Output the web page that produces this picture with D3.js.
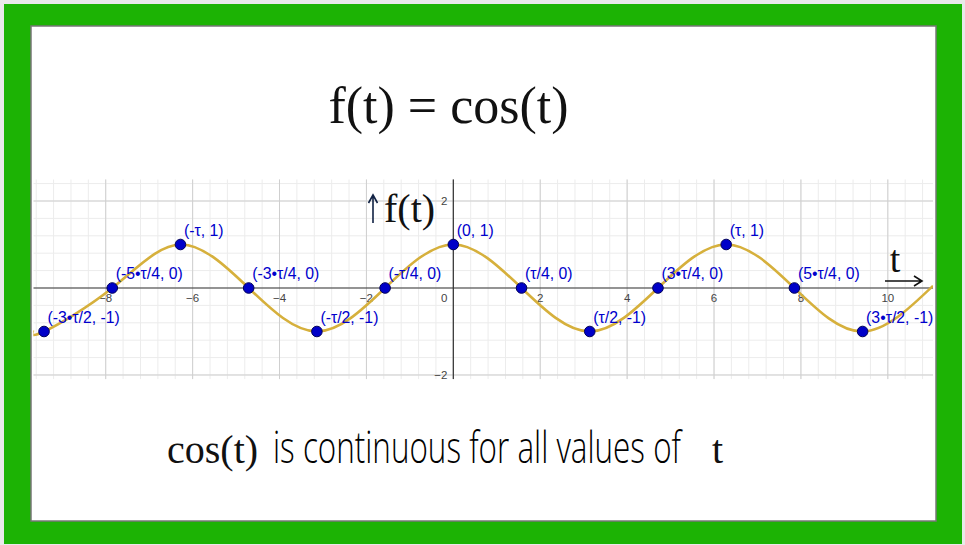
<!DOCTYPE html>
<html>
<head>
<meta charset="utf-8">
<script src="https://cdn.jsdelivr.net/npm/d3@7"></script>
<style>
  body { margin: 0; background: #e9e9e9; }
  svg  { display: block; }
</style>
</head>
<body>
<div id="chart"></div>
<script>

// t values of the labelled points (multiples of half a pi, written as tau fractions)
var pointT = [-9.42, -7.85, -6.28, -4.71, -3.14, -1.57, 0,
              1.57, 3.14, 4.71, 6.28, 7.85, 9.42];
var pointF = [-1, 0, 1, 0, -1, 0, 1, 0, -1, 0, 1, 0, -1];
var pointLabels = [
  "(-3\u2022\u03c4/2, -1)", "(-5\u2022\u03c4/4, 0)", "(-\u03c4, 1)",
  "(-3\u2022\u03c4/4, 0)", "(-\u03c4/2, -1)", "(-\u03c4/4, 0)", "(0, 1)",
  "(\u03c4/4, 0)", "(\u03c4/2, -1)", "(3\u2022\u03c4/4, 0)", "(\u03c4, 1)",
  "(5\u2022\u03c4/4, 0)", "(3\u2022\u03c4/2, -1)"
];

// where the curve leaves the plot on the left and on the right
var edgeT = [-9.67, 11.04];
var edgeF = [-0.97, 0.05];

var xTicks = [-8, -6, -4, -2, 2, 4, 6, 8, 10];
var yTicks = [2, -2];

var title    = "f(t) = cos(t)";
var caption1 = "cos(t)";
var caption2 = "is continuous for all values of";
var caption3 = "t";

var W = 965, H = 545;

var svg = d3.select("#chart").append("svg")
  .attr("width",  W)
  .attr("height", H);

// frame: green border round a white card
svg.append("rect")
  .attr("x", 4).attr("y", 4)
  .attr("width", 958).attr("height", 540)
  .attr("fill", "#1cb304");

svg.append("rect")
  .attr("x", 31).attr("y", 26)
  .attr("width", 905).attr("height", 495)
  .attr("fill", "#ffffff")
  .attr("stroke", "#777777")
  .attr("stroke-width", 1.5);

svg.append("text")
  .attr("x", 448.5)
  .attr("y", 123)
  .attr("text-anchor", "middle")
  .attr("font-family", "'Liberation Serif', 'Times New Roman', serif")
  .attr("font-size", 52)
  .attr("fill", "#111")
  .text(title);

// plot area
var plot = { left: 33.3, right: 933, top: 179.3, bottom: 379.3 };

var x = d3.scaleLinear()
  .domain([-9.667, 11.04])
  .range([plot.left, plot.right]);

var y = d3.scaleLinear()
  .domain([-2.099, 2.499])
  .range([plot.bottom, plot.top]);

svg.append("clipPath").attr("id", "plotClip")
  .append("rect")
  .attr("x", plot.left).attr("y", plot.top)
  .attr("width",  plot.right - plot.left)
  .attr("height", plot.bottom - plot.top);

var g = svg.append("g").attr("clip-path", "url(#plotClip)");

// minor grid every 0.4, major every 2
var minorX = d3.range(-24, 28).map(function(i) { return i * 0.4; });
var minorY = d3.range(-6, 7).map(function(i) { return i * 0.4; });
var majorX = d3.range(-8, 12, 2);
var majorY = [-2, 2];

g.selectAll("line.minorx").data(minorX).enter().append("line")
  .attr("x1", function(d) { return x(d); })
  .attr("x2", function(d) { return x(d); })
  .attr("y1", plot.top).attr("y2", plot.bottom)
  .attr("stroke", "#ececec").attr("stroke-width", 1);

g.selectAll("line.minory").data(minorY).enter().append("line")
  .attr("y1", function(d) { return y(d); })
  .attr("y2", function(d) { return y(d); })
  .attr("x1", plot.left).attr("x2", plot.right)
  .attr("stroke", "#ececec").attr("stroke-width", 1);

g.selectAll("line.majorx").data(majorX).enter().append("line")
  .attr("x1", function(d) { return x(d); })
  .attr("x2", function(d) { return x(d); })
  .attr("y1", plot.top).attr("y2", plot.bottom)
  .attr("stroke", "#cfcfcf").attr("stroke-width", 1);

g.selectAll("line.majory").data(majorY).enter().append("line")
  .attr("y1", function(d) { return y(d); })
  .attr("y2", function(d) { return y(d); })
  .attr("x1", plot.left).attr("x2", plot.right)
  .attr("stroke", "#cfcfcf").attr("stroke-width", 1);

// axes
g.append("line")
  .attr("x1", plot.left).attr("x2", plot.right)
  .attr("y1", y(0)).attr("y2", y(0))
  .attr("stroke", "#333").attr("stroke-width", 1.2);

g.append("line")
  .attr("x1", x(0)).attr("x2", x(0))
  .attr("y1", plot.top).attr("y2", plot.bottom)
  .attr("stroke", "#333").attr("stroke-width", 1.2);

var fmt = d3.format("d");

g.selectAll("text.xtick").data(xTicks).enter().append("text")
  .attr("x", function(d) { return x(d); })
  .attr("y", y(0) + 14)
  .attr("text-anchor", "middle")
  .attr("font-family", "'Liberation Sans', Arial, sans-serif")
  .attr("font-size", 11.5)
  .attr("fill", "#444")
  .text(function(d) { return fmt(d); });

g.selectAll("text.ytick").data(yTicks).enter().append("text")
  .attr("x", x(0) - 6)
  .attr("y", function(d) { return y(d) + 4; })
  .attr("text-anchor", "end")
  .attr("font-family", "'Liberation Sans', Arial, sans-serif")
  .attr("font-size", 11.5)
  .attr("fill", "#444")
  .text(function(d) { return fmt(d); });

g.append("text")
  .attr("x", x(0) - 9)
  .attr("y", y(0) + 14)
  .attr("text-anchor", "middle")
  .attr("font-family", "'Liberation Sans', Arial, sans-serif")
  .attr("font-size", 11.5)
  .attr("fill", "#444")
  .text("0");

// the cosine curve, a natural spline through the read points
var curveData = [[edgeT[0], edgeF[0]]]
  .concat(pointT.map(function(t, i) { return [t, pointF[i]]; }))
  .concat([[edgeT[1], edgeF[1]]]);

var line = d3.line()
  .x(function(d) { return x(d[0]); })
  .y(function(d) { return y(d[1]); })
  .curve(d3.curveNatural);

g.append("path")
  .datum(curveData)
  .attr("d", line)
  .attr("fill", "none")
  .attr("stroke", "#d6b03c")
  .attr("stroke-width", 2.6);

// points and their labels
g.selectAll("circle.pt").data(pointT).enter().append("circle")
  .attr("cx", function(d) { return x(d); })
  .attr("cy", function(d, i) { return y(pointF[i]); })
  .attr("r", 5.3)
  .attr("fill", "#0000c8")
  .attr("stroke", "#00005a")
  .attr("stroke-width", 1);

g.selectAll("text.pt").data(pointT).enter().append("text")
  .attr("x", function(d) { return x(d) + 3.5; })
  .attr("y", function(d, i) { return y(pointF[i]) - 8.5; })
  .attr("font-family", "'Liberation Sans', Arial, sans-serif")
  .attr("font-size", 15.8)
  .attr("fill", "#0000cc")
  .text(function(d, i) { return pointLabels[i]; });

// axis names
svg.append("path")
  .attr("d", "M373,223V195M368.5,203L373,195L377.5,203")
  .attr("fill", "none")
  .attr("stroke", "#112244")
  .attr("stroke-width", 1.6);

svg.append("text")
  .attr("x", 384)
  .attr("y", 222)
  .attr("font-family", "'Liberation Serif', 'Times New Roman', serif")
  .attr("font-size", 40)
  .attr("fill", "#111")
  .text("f(t)");

svg.append("text")
  .attr("x", 895)
  .attr("y", 272)
  .attr("text-anchor", "middle")
  .attr("font-family", "'Liberation Serif', 'Times New Roman', serif")
  .attr("font-size", 38)
  .attr("fill", "#111")
  .text("t");

svg.append("path")
  .attr("d", "M885,281H922M914,276L922,281L914,286")
  .attr("fill", "none")
  .attr("stroke", "#111")
  .attr("stroke-width", 1.6);

// caption
svg.append("text")
  .attr("x", 167)
  .attr("y", 463)
  .attr("font-family", "'Liberation Serif', 'Times New Roman', serif")
  .attr("font-size", 40)
  .attr("fill", "#111")
  .text(caption1);

// the handwritten middle part: a light sans, squeezed and stretched upright
svg.append("text")
  .attr("transform", "translate(273,463) scale(1,1.5)")
  .attr("font-family", "'Open Sans', Lato, sans-serif")
  .attr("font-weight", 300)
  .attr("font-size", 30)
  .attr("textLength", 408)
  .attr("lengthAdjust", "spacingAndGlyphs")
  .attr("fill", "#000")
  .text(caption2);

svg.append("text")
  .attr("x", 712)
  .attr("y", 463)
  .attr("font-family", "'Liberation Serif', 'Times New Roman', serif")
  .attr("font-size", 40)
  .attr("fill", "#111")
  .text(caption3);

</script>
</body>
</html>
